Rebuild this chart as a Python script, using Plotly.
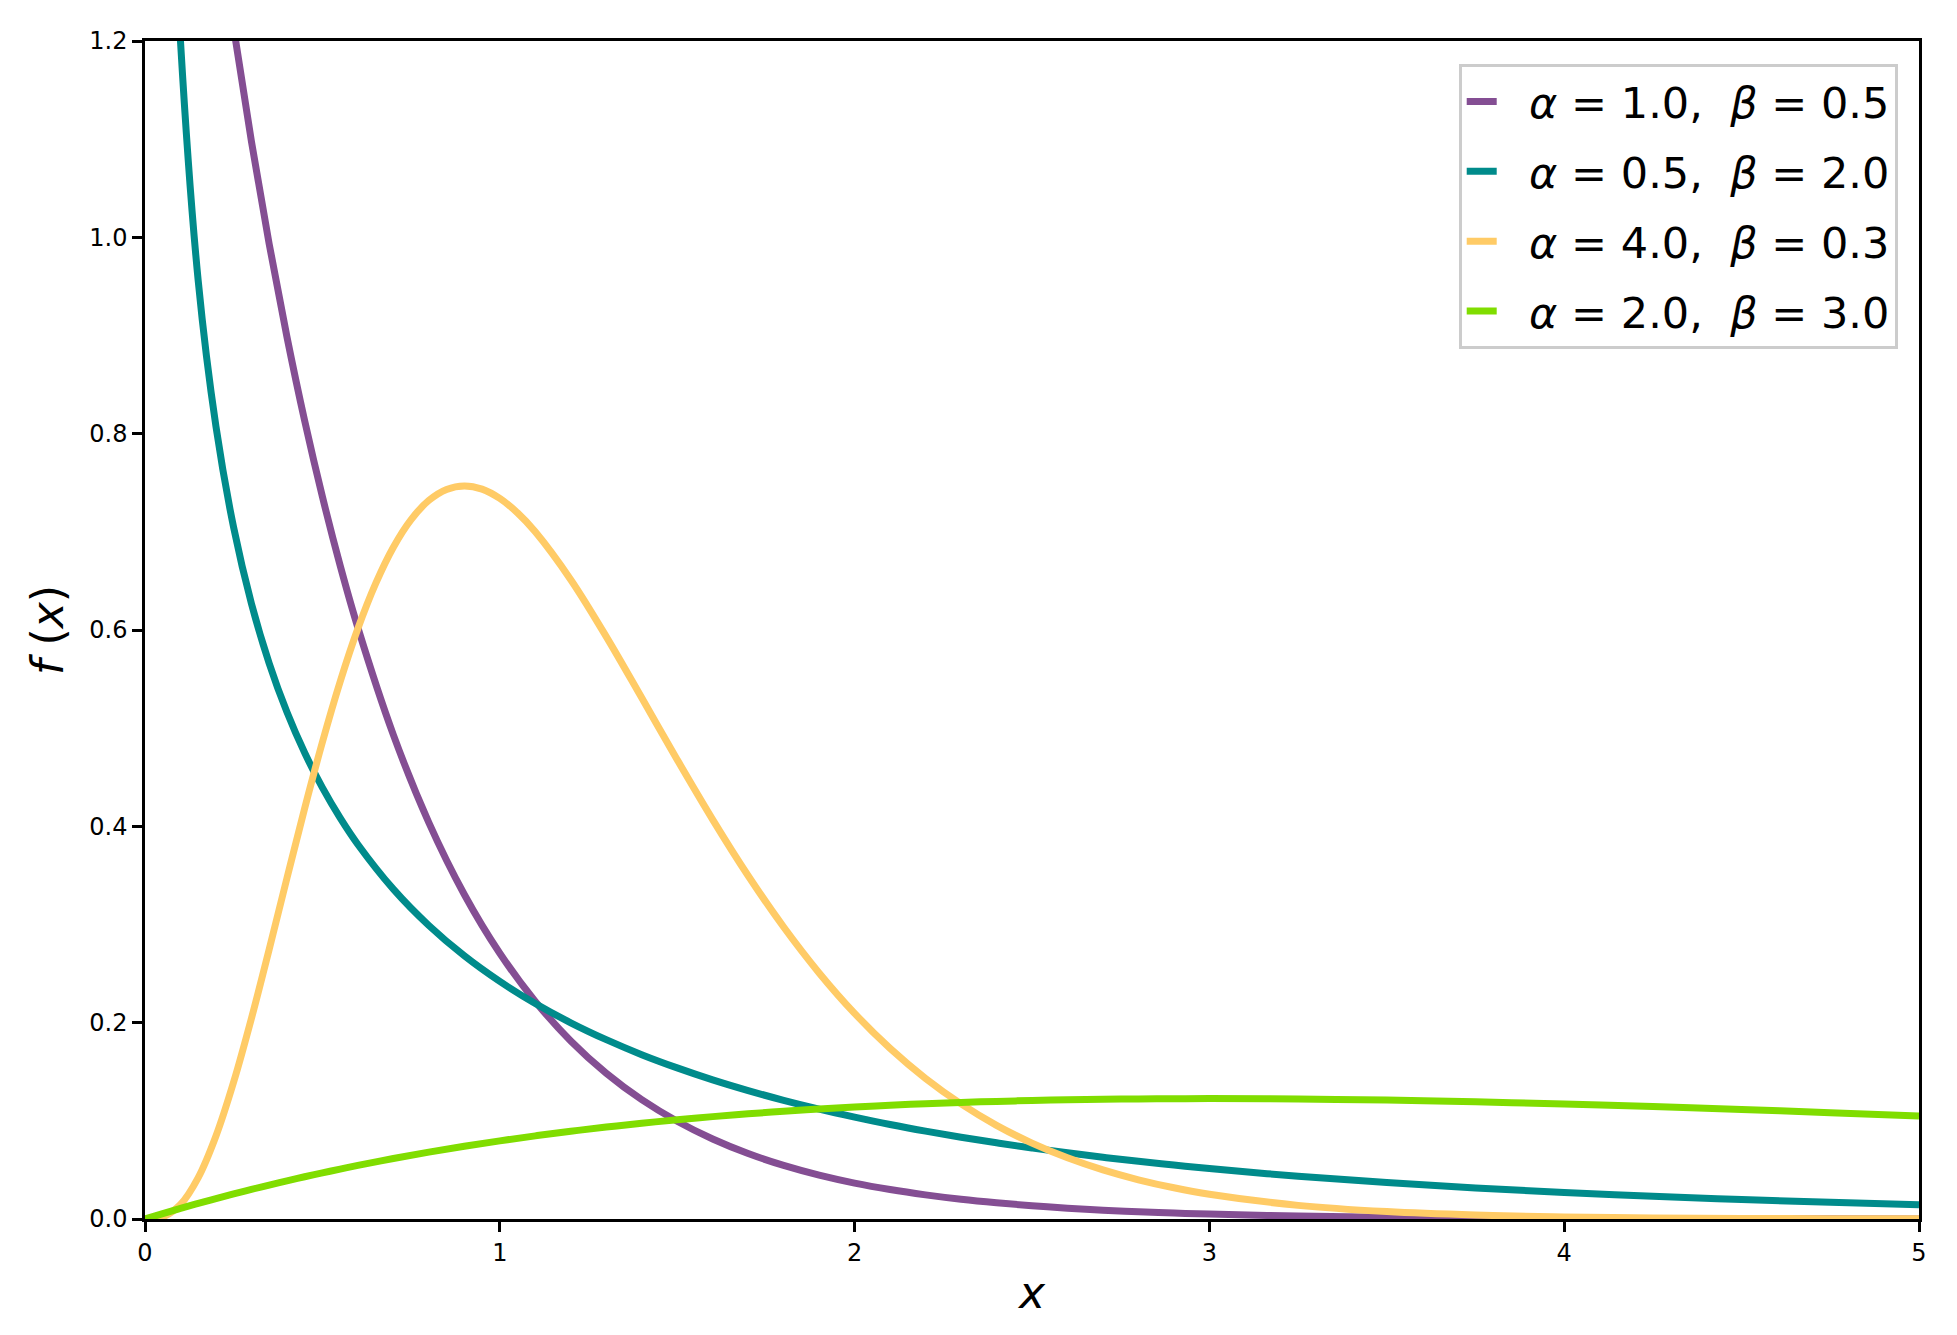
import plotly.graph_objects as go

# ---- data ----
X_MAIN = [0, 0.05, 0.1, 0.15, 0.2, 0.25, 0.3, 0.35, 0.4, 0.45, 0.5, 0.55, 0.6, 0.7, 0.8, 0.9,
          1.0, 1.1, 1.2, 1.3, 1.4, 1.5, 1.6, 1.7, 1.8, 1.9, 2.0, 2.1, 2.2, 2.3, 2.4, 2.5,
          2.6, 2.7, 2.8, 2.9, 3.0, 3.25, 3.5, 3.75, 4.0, 4.25, 4.5, 4.75, 5.0]
X_TEAL = [0.03, 0.05, 0.075, 0.1, 0.15, 0.2, 0.25, 0.3, 0.35, 0.4, 0.45, 0.5, 0.55, 0.6,
          0.7, 0.8, 0.9, 1.0, 1.1, 1.2, 1.3, 1.4, 1.5, 1.6, 1.7, 1.8, 1.9, 2.0, 2.1, 2.2,
          2.3, 2.4, 2.5, 2.6, 2.7, 2.8, 2.9, 3.0, 3.25, 3.5, 3.75, 4.0, 4.25, 4.5, 4.75, 5.0]
X_YELLOW = [0, 0.05, 0.1, 0.15, 0.2, 0.25, 0.3, 0.35, 0.4, 0.45, 0.5, 0.55, 0.6, 0.65, 0.7,
            0.75, 0.8, 0.85, 0.9, 0.95, 1.0, 1.05, 1.1, 1.2, 1.3, 1.4, 1.5, 1.6, 1.7, 1.8,
            1.9, 2.0, 2.1, 2.2, 2.3, 2.4, 2.5, 2.6, 2.7, 2.8, 2.9, 3.0, 3.25, 3.5, 3.75,
            4.0, 4.25, 4.5, 4.75, 5.0]

Y_A1_B05 = [2.0, 1.8097, 1.6375, 1.4816, 1.3406, 1.2131, 1.0976, 0.9932, 0.8987, 0.8131,
            0.7358, 0.6657, 0.6024, 0.4932, 0.4038, 0.3306, 0.2707, 0.2216, 0.1814, 0.1485,
            0.1216, 0.0996, 0.0815, 0.0667, 0.0546, 0.0447, 0.0366, 0.0300, 0.0246, 0.0201,
            0.0165, 0.0135, 0.0110, 0.0090, 0.0074, 0.0061, 0.0050, 0.0030, 0.0018, 0.0011,
            0.00067, 0.0004, 0.00025, 0.00015, 0.00009]
Y_A05_B2 = [2.2690, 1.7401, 1.4031, 1.2000, 0.9556, 0.8072, 0.7041, 0.6269, 0.5661, 0.5164,
            0.4749, 0.4394, 0.4086, 0.3815, 0.3360, 0.2990, 0.2681, 0.2420, 0.2195, 0.1999,
            0.1827, 0.1674, 0.1539, 0.1417, 0.1308, 0.1209, 0.1119, 0.1038, 0.0963, 0.0895,
            0.0833, 0.0776, 0.0723, 0.0674, 0.0629, 0.0588, 0.0550, 0.0514, 0.0436, 0.0371,
            0.0316, 0.0270, 0.0231, 0.0198, 0.0170, 0.0146]
Y_A4_B03 = [0.0, 0.00218, 0.01474, 0.04212, 0.08451, 0.13972, 0.20438, 0.27472, 0.34713,
            0.41837, 0.48580, 0.54732, 0.60150, 0.64728, 0.68438, 0.71253, 0.73200, 0.74321,
            0.74681, 0.74353, 0.73403, 0.71928, 0.70004, 0.65123, 0.59327, 0.53094, 0.46790,
            0.40689, 0.34967, 0.29745, 0.25070, 0.20948, 0.17376, 0.14315, 0.11721, 0.09542,
            0.07728, 0.06229, 0.04998, 0.03994, 0.03180, 0.02522, 0.01389, 0.00757, 0.00404,
            0.00213, 0.00111, 0.00057, 0.00029, 0.00015]
Y_A2_B3 = [0.0, 0.005464, 0.010747, 0.015854, 0.020789, 0.025557, 0.030161, 0.034607,
           0.038896, 0.043035, 0.047027, 0.050874, 0.054582, 0.061591, 0.068083, 0.074082,
           0.079615, 0.084705, 0.089376, 0.093650, 0.097549, 0.101088, 0.104293, 0.107178,
           0.109762, 0.112064, 0.114093, 0.115871, 0.117409, 0.118723, 0.119821, 0.120722,
           0.121434, 0.121971, 0.122341, 0.122554, 0.122626, 0.122240, 0.121100, 0.119375,
           0.117156, 0.114523, 0.111565, 0.108348, 0.104933]

SERIES = [
    ("<i>α</i> = 1.0,  <i>β</i> = 0.5", X_MAIN, Y_A1_B05, "#844E93"),
    ("<i>α</i> = 0.5,  <i>β</i> = 2.0", X_TEAL, Y_A05_B2, "#008B8B"),
    ("<i>α</i> = 4.0,  <i>β</i> = 0.3", X_YELLOW, Y_A4_B03, "#FFCB66"),
    ("<i>α</i> = 2.0,  <i>β</i> = 3.0", X_MAIN, Y_A2_B3, "#80DD00"),
]

X_TICKS = [0, 1, 2, 3, 4, 5]
Y_TICKS = [0.0, 0.2, 0.4, 0.6, 0.8, 1.0, 1.2]

FONT = "DejaVu Sans"

fig = go.Figure()
for i, (name, xs, ys, color) in enumerate(SERIES):
    fig.add_trace(go.Scatter(
        x=xs, y=ys, mode="lines", name="\u00a0\u00a0" + name, legendgroup=f"g{i}",
        line=dict(color=color, width=7, shape="spline", smoothing=1.0),
    ))

axis_common = dict(
    showgrid=False, zeroline=False, showline=True, linecolor="black", linewidth=2.5,
    mirror=True, ticks="outside", ticklen=10, tickwidth=2.5, tickcolor="black",
    tickfont=dict(family=FONT, size=24, color="black"),
)

fig.update_layout(
    width=1941, height=1319,
    margin=dict(l=137, r=30, t=33, b=108),
    paper_bgcolor="white", plot_bgcolor="white",
    font=dict(family=FONT, color="black"),
    xaxis=dict(range=[0, 5], tickvals=X_TICKS, ticktext=[str(v) for v in X_TICKS],
               title=dict(text="<i>x</i>", font=dict(family=FONT, size=44), standoff=12),
               **axis_common),
    yaxis=dict(range=[0, 1.2], tickvals=Y_TICKS, ticktext=[f"{v:.1f}" for v in Y_TICKS],
               title=dict(text="<i>f</i> (<i>x</i>)", font=dict(family=FONT, size=44), standoff=12),
               **axis_common),
    legend=dict(
        x=0.988, y=0.9805, xanchor="right", yanchor="top",
        bgcolor="white", bordercolor="#CCCCCC", borderwidth=3,
        font=dict(family=FONT, size=43, color="black"),
        tracegroupgap=11,
    ),
)

fig.write_html("out.html")
